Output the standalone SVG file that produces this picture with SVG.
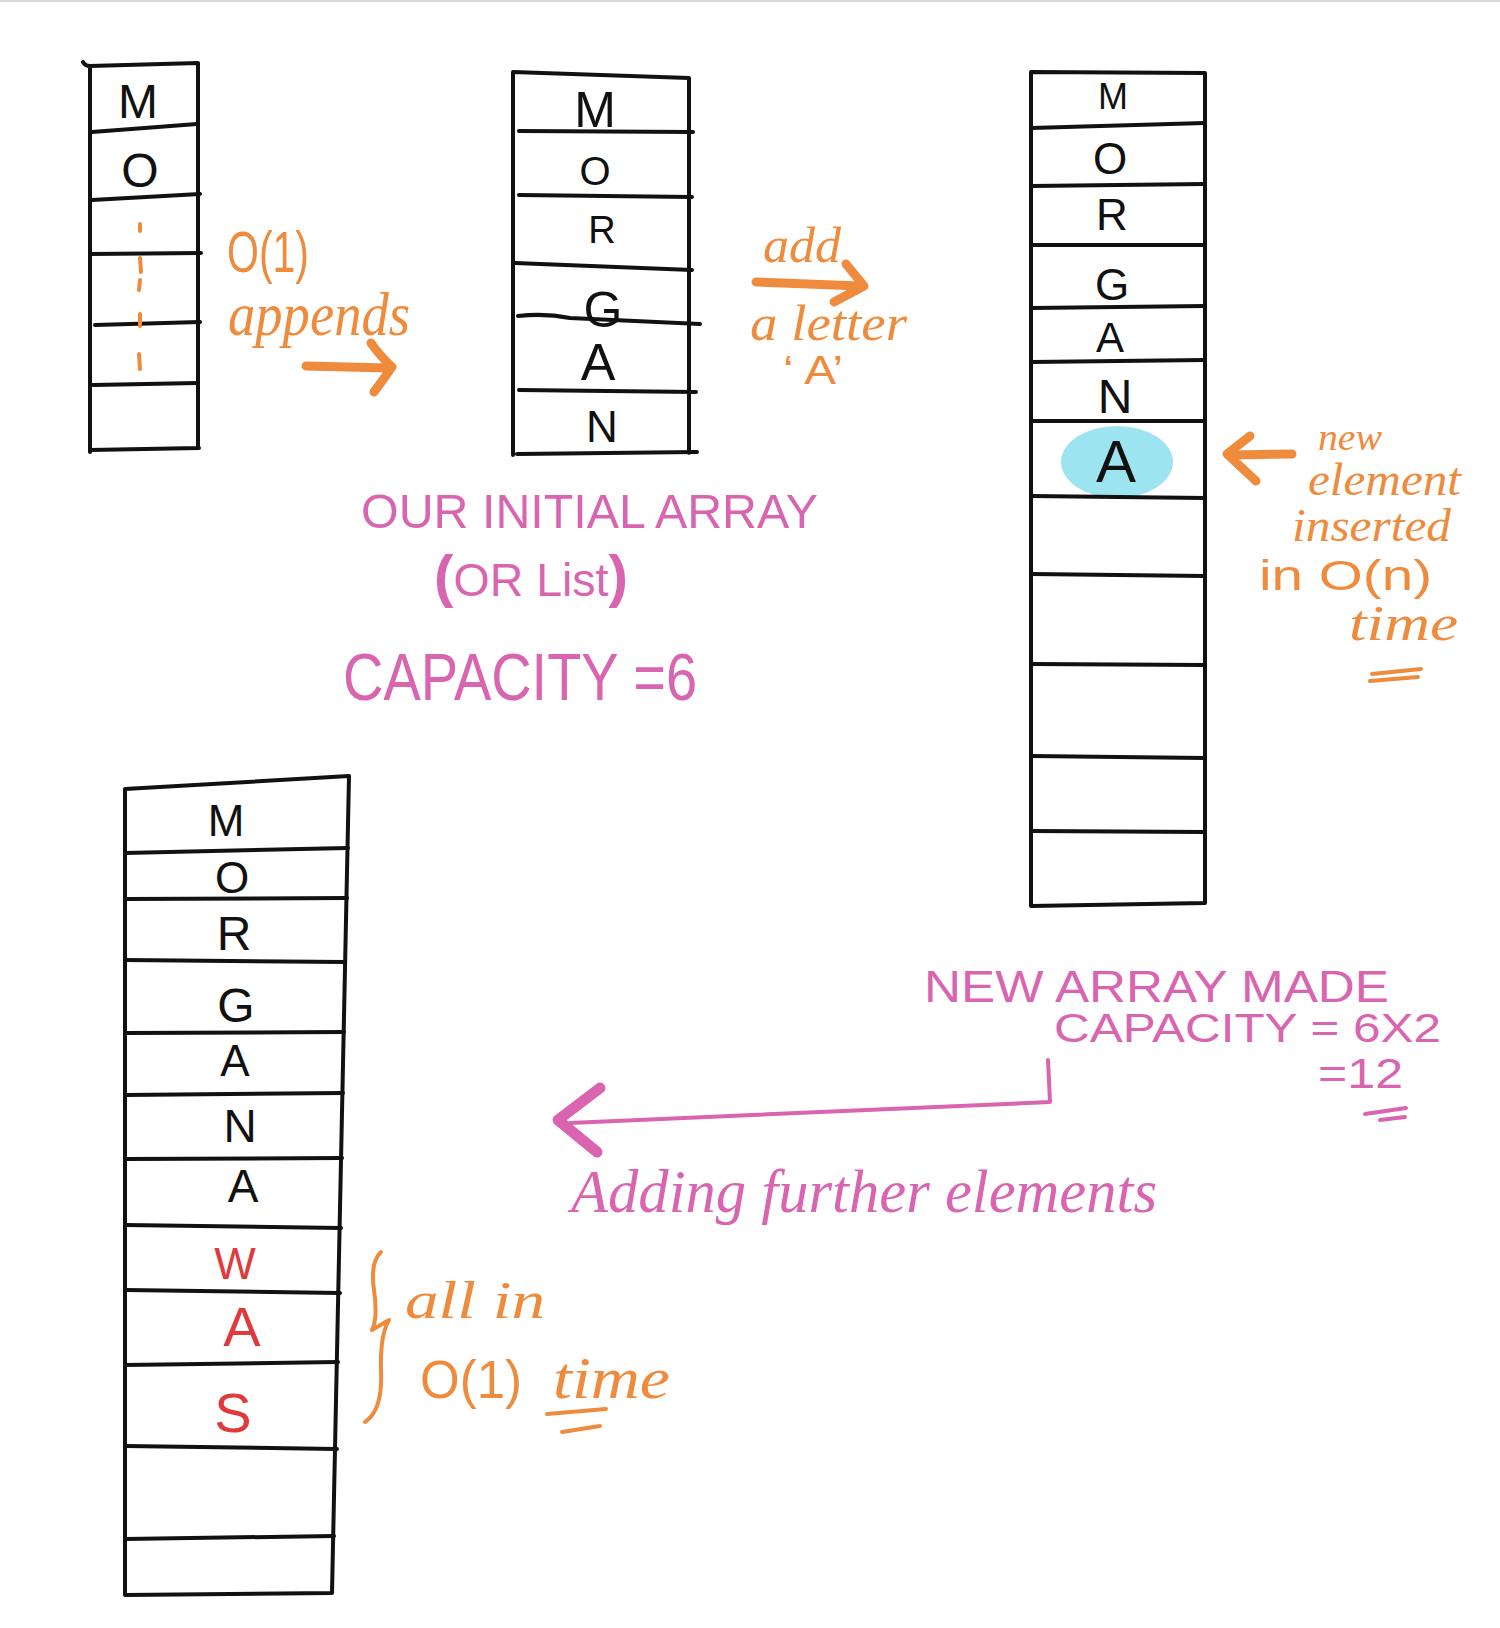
<svg xmlns="http://www.w3.org/2000/svg" width="1500" height="1628" viewBox="0 0 1500 1628">
<style>
.bk{fill:none;stroke:#111;stroke-width:4;stroke-linecap:round;stroke-linejoin:round}
.or{fill:none;stroke:#EE8B3C;stroke-width:4;stroke-linecap:round;stroke-linejoin:round}
.pk{fill:none;stroke:#D964AF;stroke-width:4;stroke-linecap:round;stroke-linejoin:round}
.thick{stroke-width:9}
.lt{font-family:"Liberation Sans",Arial,sans-serif;fill:#111;text-anchor:middle}
.rd{font-family:"Liberation Sans",Arial,sans-serif;fill:#E03A3C;text-anchor:middle}
.ot{font-family:"Liberation Sans",Arial,sans-serif;fill:#EE8B3C}
.oc{font-family:"Liberation Serif","Times New Roman",serif;font-style:italic;fill:#EE8B3C}
.pt{font-family:"Liberation Sans",Arial,sans-serif;fill:#D964AF}
.pc{font-family:"Liberation Serif","Times New Roman",serif;font-style:italic;fill:#D964AF}
</style>
<rect width="1500" height="1628" fill="#fff"/>
<line x1="0" y1="1" x2="1500" y2="1" stroke="#d8d8d8" stroke-width="2"/>

<g id="array1">
  <path class="bk" d="M83,62 Q85,66 90,66 L198,63 M90,66 L90,452 M198,63 L198,448 M90,450 L199,448"/>
  <path class="bk" d="M92,132 L197,124 M92,200 L200,194 M90,254 L201,253 M95,325 L200,322 M93,385 L198,383"/>
  <text class="lt" x="138" y="118" font-size="48">M</text>
  <text class="lt" x="140" y="187" font-size="48">O</text>
  <path class="or" d="M140,224 L140,231 M140,258 L141,272 M140,280 L139,290 M140,314 L140,326 M139,354 L140,369"/>
</g>

<g id="label-append">
  <text class="ot" x="227" y="272" font-size="58" textLength="82" lengthAdjust="spacingAndGlyphs">O(1)</text>
  <text class="oc" x="228" y="335" font-size="62" textLength="182" lengthAdjust="spacingAndGlyphs">appends</text>
</g>

<g id="array2">
  <path class="bk" d="M513,72 L689,78 M513,72 L513,455 M689,78 L689,453 M517,454 L697,452"/>
  <path class="bk" d="M519,131 L693,132 M519,195 L692,197 M515,263 L692,270 M518,316 Q545,313 570,318 L700,324 M519,390 L696,392"/>
  <text class="lt" x="595" y="127" font-size="50">M</text>
  <text class="lt" x="595" y="185" font-size="40">O</text>
  <text class="lt" x="602" y="243" font-size="38">R</text>
  <text class="lt" x="603" y="327" font-size="50">G</text>
  <text class="lt" x="598" y="380" font-size="52">A</text>
  <text class="lt" x="602" y="442" font-size="44">N</text>
</g>

<g id="label-add">
  <text class="oc" x="763" y="262" font-size="50" textLength="78" lengthAdjust="spacingAndGlyphs">add</text>
  <text class="oc" x="750" y="340" font-size="50" textLength="157" lengthAdjust="spacingAndGlyphs">a letter</text>
  <text class="ot" x="783" y="384" font-size="40" textLength="60" lengthAdjust="spacingAndGlyphs">‘ A’</text>
</g>

<g id="label-initial">
  <text class="pt" x="361" y="528" font-size="48" textLength="457" lengthAdjust="spacingAndGlyphs">OUR INITIAL ARRAY</text>
  <text class="pt" x="434" y="596" font-size="46" textLength="194" lengthAdjust="spacingAndGlyphs"><tspan font-weight="bold" font-size="58">(</tspan>OR List<tspan font-weight="bold" font-size="58">)</tspan></text>
  <text class="pt" x="343" y="700" font-size="66" textLength="354" lengthAdjust="spacingAndGlyphs">CAPACITY =6</text>
</g>

<g id="array3">
  <ellipse cx="1117" cy="462" rx="56" ry="36" fill="#9CE4EF"/>
  <path class="bk" d="M1031,72 L1205,73 M1031,72 L1031,906 M1205,73 L1205,903 M1031,906 L1205,903"/>
  <path class="bk" d="M1031,128 L1205,123 M1031,186 L1205,184 M1031,245 L1205,245 M1031,308 L1205,306 M1031,362 L1205,360 M1031,421 L1205,421 M1031,496 L1205,498 M1031,574 L1205,576 M1031,664 L1205,665 M1031,756 L1205,758 M1031,831 L1205,832"/>
  <text class="lt" x="1113" y="109" font-size="36">M</text>
  <text class="lt" x="1110" y="174" font-size="44">O</text>
  <text class="lt" x="1112" y="230" font-size="44">R</text>
  <text class="lt" x="1112" y="300" font-size="44">G</text>
  <text class="lt" x="1110" y="352" font-size="42">A</text>
  <text class="lt" x="1115" y="413" font-size="48">N</text>
  <text class="lt" x="1116" y="482" font-size="60">A</text>
</g>

<g id="label-new-element">
  <text class="oc" x="1318" y="450" font-size="38" textLength="64" lengthAdjust="spacingAndGlyphs">new</text>
  <text class="oc" x="1308" y="495" font-size="46" textLength="153" lengthAdjust="spacingAndGlyphs">element</text>
  <text class="oc" x="1292" y="541" font-size="46" textLength="159" lengthAdjust="spacingAndGlyphs">inserted</text>
  <text class="ot" x="1259" y="590" font-size="42" textLength="173" lengthAdjust="spacingAndGlyphs">in  O(n)</text>
  <text class="oc" x="1349" y="640" font-size="50" textLength="109" lengthAdjust="spacingAndGlyphs">time</text>
  <path class="or" d="M1372,674 L1421,669 M1370,681 L1418,677"/>
</g>

<g id="label-new-array">
  <text class="pt" x="924" y="1002" font-size="44" textLength="465" lengthAdjust="spacingAndGlyphs">NEW ARRAY MADE</text>
  <text class="pt" x="1054" y="1042" font-size="40" textLength="387" lengthAdjust="spacingAndGlyphs">CAPACITY = 6X2</text>
  <text class="pt" x="1318" y="1088" font-size="42" textLength="85" lengthAdjust="spacingAndGlyphs">=12</text>
  <path class="pk" d="M1365,1114 L1406,1108 M1380,1120 L1405,1117"/>
</g>

<g id="array4">
  <path class="bk" d="M125,789 L349,776 M125,789 L125,1595 M349,776 L332,1593 M125,1595 L332,1593"/>
  <path class="bk" d="M125,853 L348,848 M125,899 L347,898 M125,960 L345,962 M125,1033 L344,1032 M125,1095 L343,1093 M125,1159 L342,1158 M125,1225 L341,1228 M125,1290 L340,1293 M125,1365 L338,1362 M125,1446 L337,1449 M125,1539 L334,1536"/>
  <text class="lt" x="226" y="836" font-size="44">M</text>
  <text class="lt" x="232" y="893" font-size="44">O</text>
  <text class="lt" x="234" y="950" font-size="48">R</text>
  <text class="lt" x="236" y="1022" font-size="48">G</text>
  <text class="lt" x="235" y="1076" font-size="44">A</text>
  <text class="lt" x="240" y="1142" font-size="46">N</text>
  <text class="lt" x="243" y="1202" font-size="46">A</text>
  <text class="rd" x="235" y="1279" font-size="44">W</text>
  <text class="rd" x="242" y="1346" font-size="56">A</text>
  <text class="rd" x="233" y="1432" font-size="56">S</text>
</g>

<g id="label-all-in">
  <path class="or" d="M381,1252 Q370,1262 374,1290 Q378,1318 372,1330 L389,1320 Q380,1335 381,1370 Q383,1410 365,1422"/>
  <text class="oc" x="405" y="1318" font-size="52" textLength="140" lengthAdjust="spacingAndGlyphs">all in</text>
  <text class="ot" x="420" y="1398" font-size="54" textLength="102" lengthAdjust="spacingAndGlyphs">O(1)</text>
  <text class="oc" x="553" y="1398" font-size="60" textLength="117" lengthAdjust="spacingAndGlyphs">time</text>
  <path class="or" d="M547,1414 L606,1409 M562,1432 L600,1426"/>
</g>

<g id="label-adding">
  <text class="pc" x="571" y="1212" font-size="62" textLength="586" lengthAdjust="spacingAndGlyphs">Adding further elements</text>
</g>

<g id="connectors">
  <path class="or thick" d="M306,366 L388,368"/>
  <path class="or thick" d="M371,343 Q380,356 392,367 Q383,380 374,392"/>
  <path class="or thick" d="M756,282 L860,286"/>
  <path class="or thick" d="M846,264 L864,286 L834,302"/>
  <path class="or thick" d="M1292,454 L1232,455"/>
  <path class="or thick" d="M1250,436 L1227,454 L1256,481"/>
  <path class="pk" d="M1048,1060 L1050,1102 L570,1123"/>
  <path class="pk" style="stroke-width:11" d="M600,1088 L558,1120 L597,1152"/>
</g>
</svg>
